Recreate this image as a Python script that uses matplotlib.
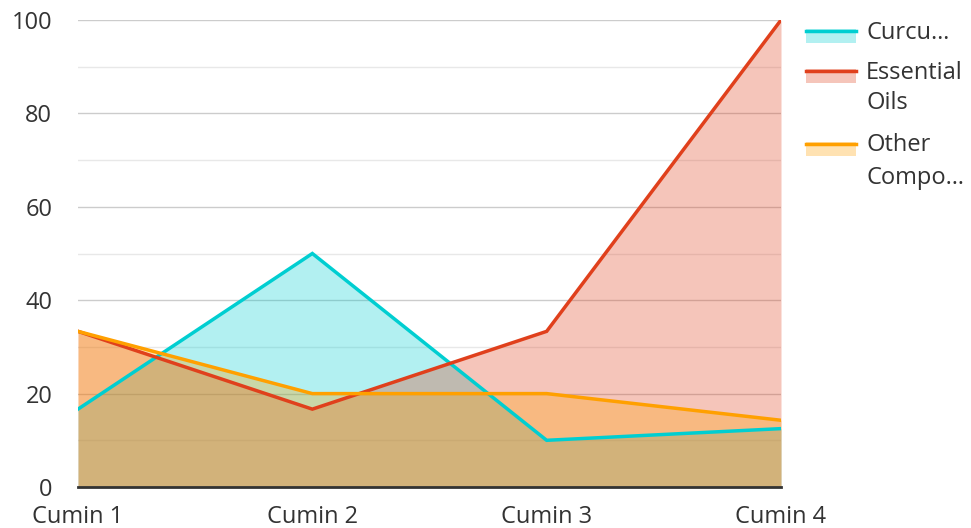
import matplotlib
matplotlib.use("Agg")
import matplotlib.pyplot as plt
from matplotlib.patches import Rectangle
from matplotlib.lines import Line2D

categories = ["Cumin 1", "Cumin 2", "Cumin 3", "Cumin 4"]
series_names = ["Curcu…", "Essential\nOils", "Other\nCompo…"]
curcu = [16.67, 50.0, 10.0, 12.5]
essential_oils = [33.33, 16.67, 33.33, 100.0]
other_compo = [33.33, 20.0, 20.0, 14.29]
colors = ["#00CED1", "#E0401C", "#FFA000"]

plt.rcParams['font.family'] = ['Open Sans', 'DejaVu Sans']

W, H = 971, 528
FS = 17
fig = plt.figure(figsize=(W / 100, H / 100), dpi=100)
ax = fig.add_axes([78 / W, 1 - 487 / H, (781 - 78) / W, (487 - 20) / H])

x = list(range(len(categories)))
for vals, c in zip([curcu, essential_oils, other_compo], colors):
    ax.fill_between(x, 0, vals, color=c, alpha=0.3, linewidth=0, zorder=2)
for vals, c in zip([curcu, essential_oils, other_compo], colors):
    ax.plot(x, vals, color=c, linewidth=2.5, zorder=4, solid_joinstyle='miter')

ax.set_xlim(0, 3)
ax.set_ylim(0, 100)
ax.set_yticks([0, 20, 40, 60, 80, 100])
ax.set_yticks([10, 30, 50, 70, 90], minor=True)
ax.set_xticks(x)
ax.set_xticklabels(categories)
ax.grid(True, which='major', axis='y', color='#000000', alpha=0.2, linewidth=1, zorder=3)
ax.grid(True, which='minor', axis='y', color='#000000', alpha=0.09, linewidth=1, zorder=3)
ax.tick_params(axis='both', which='both', length=0, labelsize=FS, colors='#333333')
ax.tick_params(axis='y', pad=18.5)
ax.tick_params(axis='x', pad=13)
for s in ['top', 'right', 'left']:
    ax.spines[s].set_visible(False)
ax.spines['bottom'].set_color('#333333')
ax.spines['bottom'].set_linewidth(2)
ax.spines['bottom'].set_zorder(5)

# legend (manual)
def fy(py):
    return 1 - py / H

entries = [(29, [33]), (69, [73, 103]), (142, [145, 178])]
for (top, text_ys), name, c in zip(entries, series_names, colors):
    fig.add_artist(Rectangle((806 / W, fy(top + 14)), 50 / W, 14 / H,
                             transform=fig.transFigure, facecolor=c, alpha=0.3, linewidth=0))
    fig.add_artist(Line2D([806 / W, 856 / W], [fy(top + 1.5), fy(top + 1.5)],
                          transform=fig.transFigure, color=c, linewidth=2.5))
    for line, ty in zip(name.split("\n"), text_ys):
        fig.text(866 / W, fy(ty), line, fontsize=FS, color='#333333',
                 va='center', ha='left')

fig.savefig("out.png", dpi=100)
